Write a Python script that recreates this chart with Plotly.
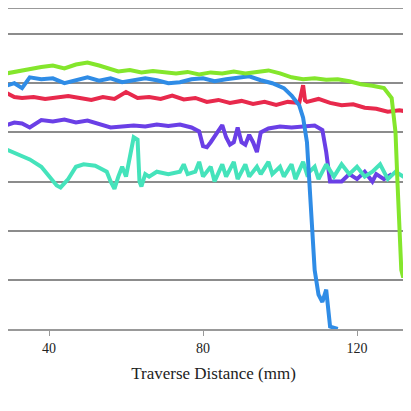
import plotly.graph_objects as go

green_pts = [(29, 5.2), (32, 5.25), (35, 5.28), (38, 5.33), (41, 5.36), (44, 5.3), (47, 5.38), (50, 5.42),
             (53, 5.36), (55, 5.32), (58, 5.24), (61, 5.27), (64, 5.22), (67, 5.25), (70, 5.22), (73, 5.2),
             (76, 5.23), (79, 5.18), (82, 5.22), (85, 5.2), (88, 5.24), (91, 5.2), (94, 5.23), (97, 5.26),
             (100, 5.2), (103, 5.12), (106, 5.08), (109, 5.1), (112, 5.07), (115, 5.08), (118, 5.04),
             (121, 4.98), (124, 4.95), (127, 4.9), (129, 4.7), (130, 4.0), (130.5, 3.0), (131, 2.0),
             (131.5, 1.2), (132, 1.05), (133, 1.3), (134, 1.1), (135, 0.9), (136, 1.3)]
blue_pts = [(29, 4.95), (31, 5.0), (33, 4.9), (35, 5.12), (38, 5.08), (41, 5.1), (44, 5.0), (47, 5.05),
            (50, 5.12), (53, 5.05), (56, 5.1), (59, 5.02), (62, 5.06), (65, 5.1), (68, 5.06), (71, 5.0),
            (74, 5.02), (77, 5.08), (80, 5.1), (83, 5.04), (86, 5.08), (89, 5.1), (92, 5.14), (95, 5.06),
            (98, 5.0), (101, 4.9), (103, 4.75), (105, 4.55), (106, 4.3), (107, 3.8), (107.5, 3.2),
            (108, 2.5), (108.5, 1.8), (109, 1.2), (110, 0.7), (111, 0.55), (112, 0.8), (113, 0.05), (115, 0.0)]
red_pts = [(29, 4.8), (31, 4.72), (33, 4.7), (36, 4.72), (39, 4.68), (42, 4.7), (45, 4.74), (48, 4.7),
           (51, 4.66), (54, 4.72), (57, 4.68), (60, 4.82), (63, 4.7), (66, 4.72), (69, 4.68), (72, 4.75),
           (75, 4.67), (78, 4.7), (81, 4.62), (84, 4.66), (87, 4.6), (90, 4.64), (93, 4.58), (96, 4.62),
           (99, 4.56), (102, 4.62), (105, 4.6), (106, 4.96), (106.5, 4.65), (107, 4.62), (110, 4.68),
           (113, 4.6), (116, 4.55), (119, 4.57), (122, 4.5), (125, 4.48), (128, 4.42), (131, 4.45),
           (134, 4.4), (136, 4.38)]
purple_pts = [(29, 4.15), (31, 4.2), (33, 4.18), (35, 4.1), (38, 4.25), (41, 4.22), (44, 4.26), (47, 4.2),
              (50, 4.24), (53, 4.18), (56, 4.1), (59, 4.12), (62, 4.14), (65, 4.12), (68, 4.16), (71, 4.13),
              (74, 4.16), (77, 4.1), (79, 4.02), (80, 3.72), (81, 3.7), (82, 3.8), (84, 4.05), (85, 4.15),
              (86, 3.9), (87, 3.75), (88, 3.8), (89, 4.1), (90, 3.8), (91, 3.75), (92, 3.95), (93, 3.8),
              (94, 3.6), (95, 4.0), (97, 4.08), (100, 4.12), (103, 4.1), (106, 4.12), (109, 4.14),
              (111, 4.05), (112, 3.6), (113, 3.0), (116, 3.0), (118, 3.15), (120, 3.05), (122, 3.2),
              (124, 3.0), (125, 3.15), (127, 3.05), (129, 3.15)]
teal_pts = [(29, 3.65), (32, 3.55), (35, 3.45), (38, 3.3), (40, 3.1), (42, 2.92), (43, 2.88), (45, 3.05),
            (47, 3.3), (49, 3.35), (52, 3.32), (55, 3.2), (56, 3.0), (57, 2.85), (58, 3.1), (59, 3.3),
            (60, 3.1), (61, 3.5), (62, 3.9), (63, 3.85), (63.5, 3.0), (64, 2.9), (65, 3.15), (66, 3.1),
            (68, 3.2), (71, 3.15), (74, 3.2), (75, 3.35), (76, 3.15), (78, 3.2), (79, 3.4), (80, 3.1),
            (82, 3.3), (83, 3.0), (85, 3.35), (86, 3.1), (88, 3.4), (89, 3.05), (91, 3.35), (92, 3.1),
            (94, 3.3), (95, 3.15), (97, 3.4), (98, 3.15), (100, 3.3), (101, 3.1), (103, 3.35), (104, 3.05),
            (106, 3.4), (107, 3.15), (109, 3.3), (110, 3.05), (112, 3.35), (114, 3.1), (116, 3.35),
            (118, 3.15), (120, 3.3), (122, 3.1), (124, 3.2), (126, 3.35), (128, 3.05), (130, 3.2),
            (132, 3.1), (134, 3.2), (136, 3.05)]

x_ticks = [40, 80, 120]

series = [
    (purple_pts, "#6a3fe6"),
    (teal_pts, "#45e3bb"),
    (red_pts, "#e8294c"),
    (blue_pts, "#2f8ce6"),
    (green_pts, "#84e62c"),
]

fig = go.Figure()
for pts, color in series:
    xs, ys = zip(*pts)
    fig.add_trace(go.Scatter(x=xs, y=ys, mode="lines", line=dict(color=color, width=4),
                             showlegend=False, cliponaxis=True))

# top border of the plot area
fig.add_shape(type="line", xref="paper", yref="paper", x0=0, x1=1, y0=1, y1=1,
              line=dict(color="#999999", width=2))

fig.update_layout(
    width=411, height=411,
    margin=dict(l=0, r=0, t=0, b=90, pad=0, autoexpand=False),
    plot_bgcolor="white", paper_bgcolor="white",
    font=dict(family="Liberation Serif", size=14, color="#222222"),
    xaxis=dict(range=[29.35, 136.1], tickvals=x_ticks, showgrid=False, zeroline=False,
               automargin=False, showline=True, linecolor="#999999", linewidth=2,
               ticks="outside", tickcolor="#999999", ticklen=5,
               title=dict(text="Traverse Distance (mm)", standoff=12)),
    yaxis=dict(range=[0, 6.53], dtick=1, showgrid=True, gridcolor="#8c8c8c", gridwidth=2,
               automargin=False, zeroline=False, showticklabels=False),
)

fig.write_html("out.html")
